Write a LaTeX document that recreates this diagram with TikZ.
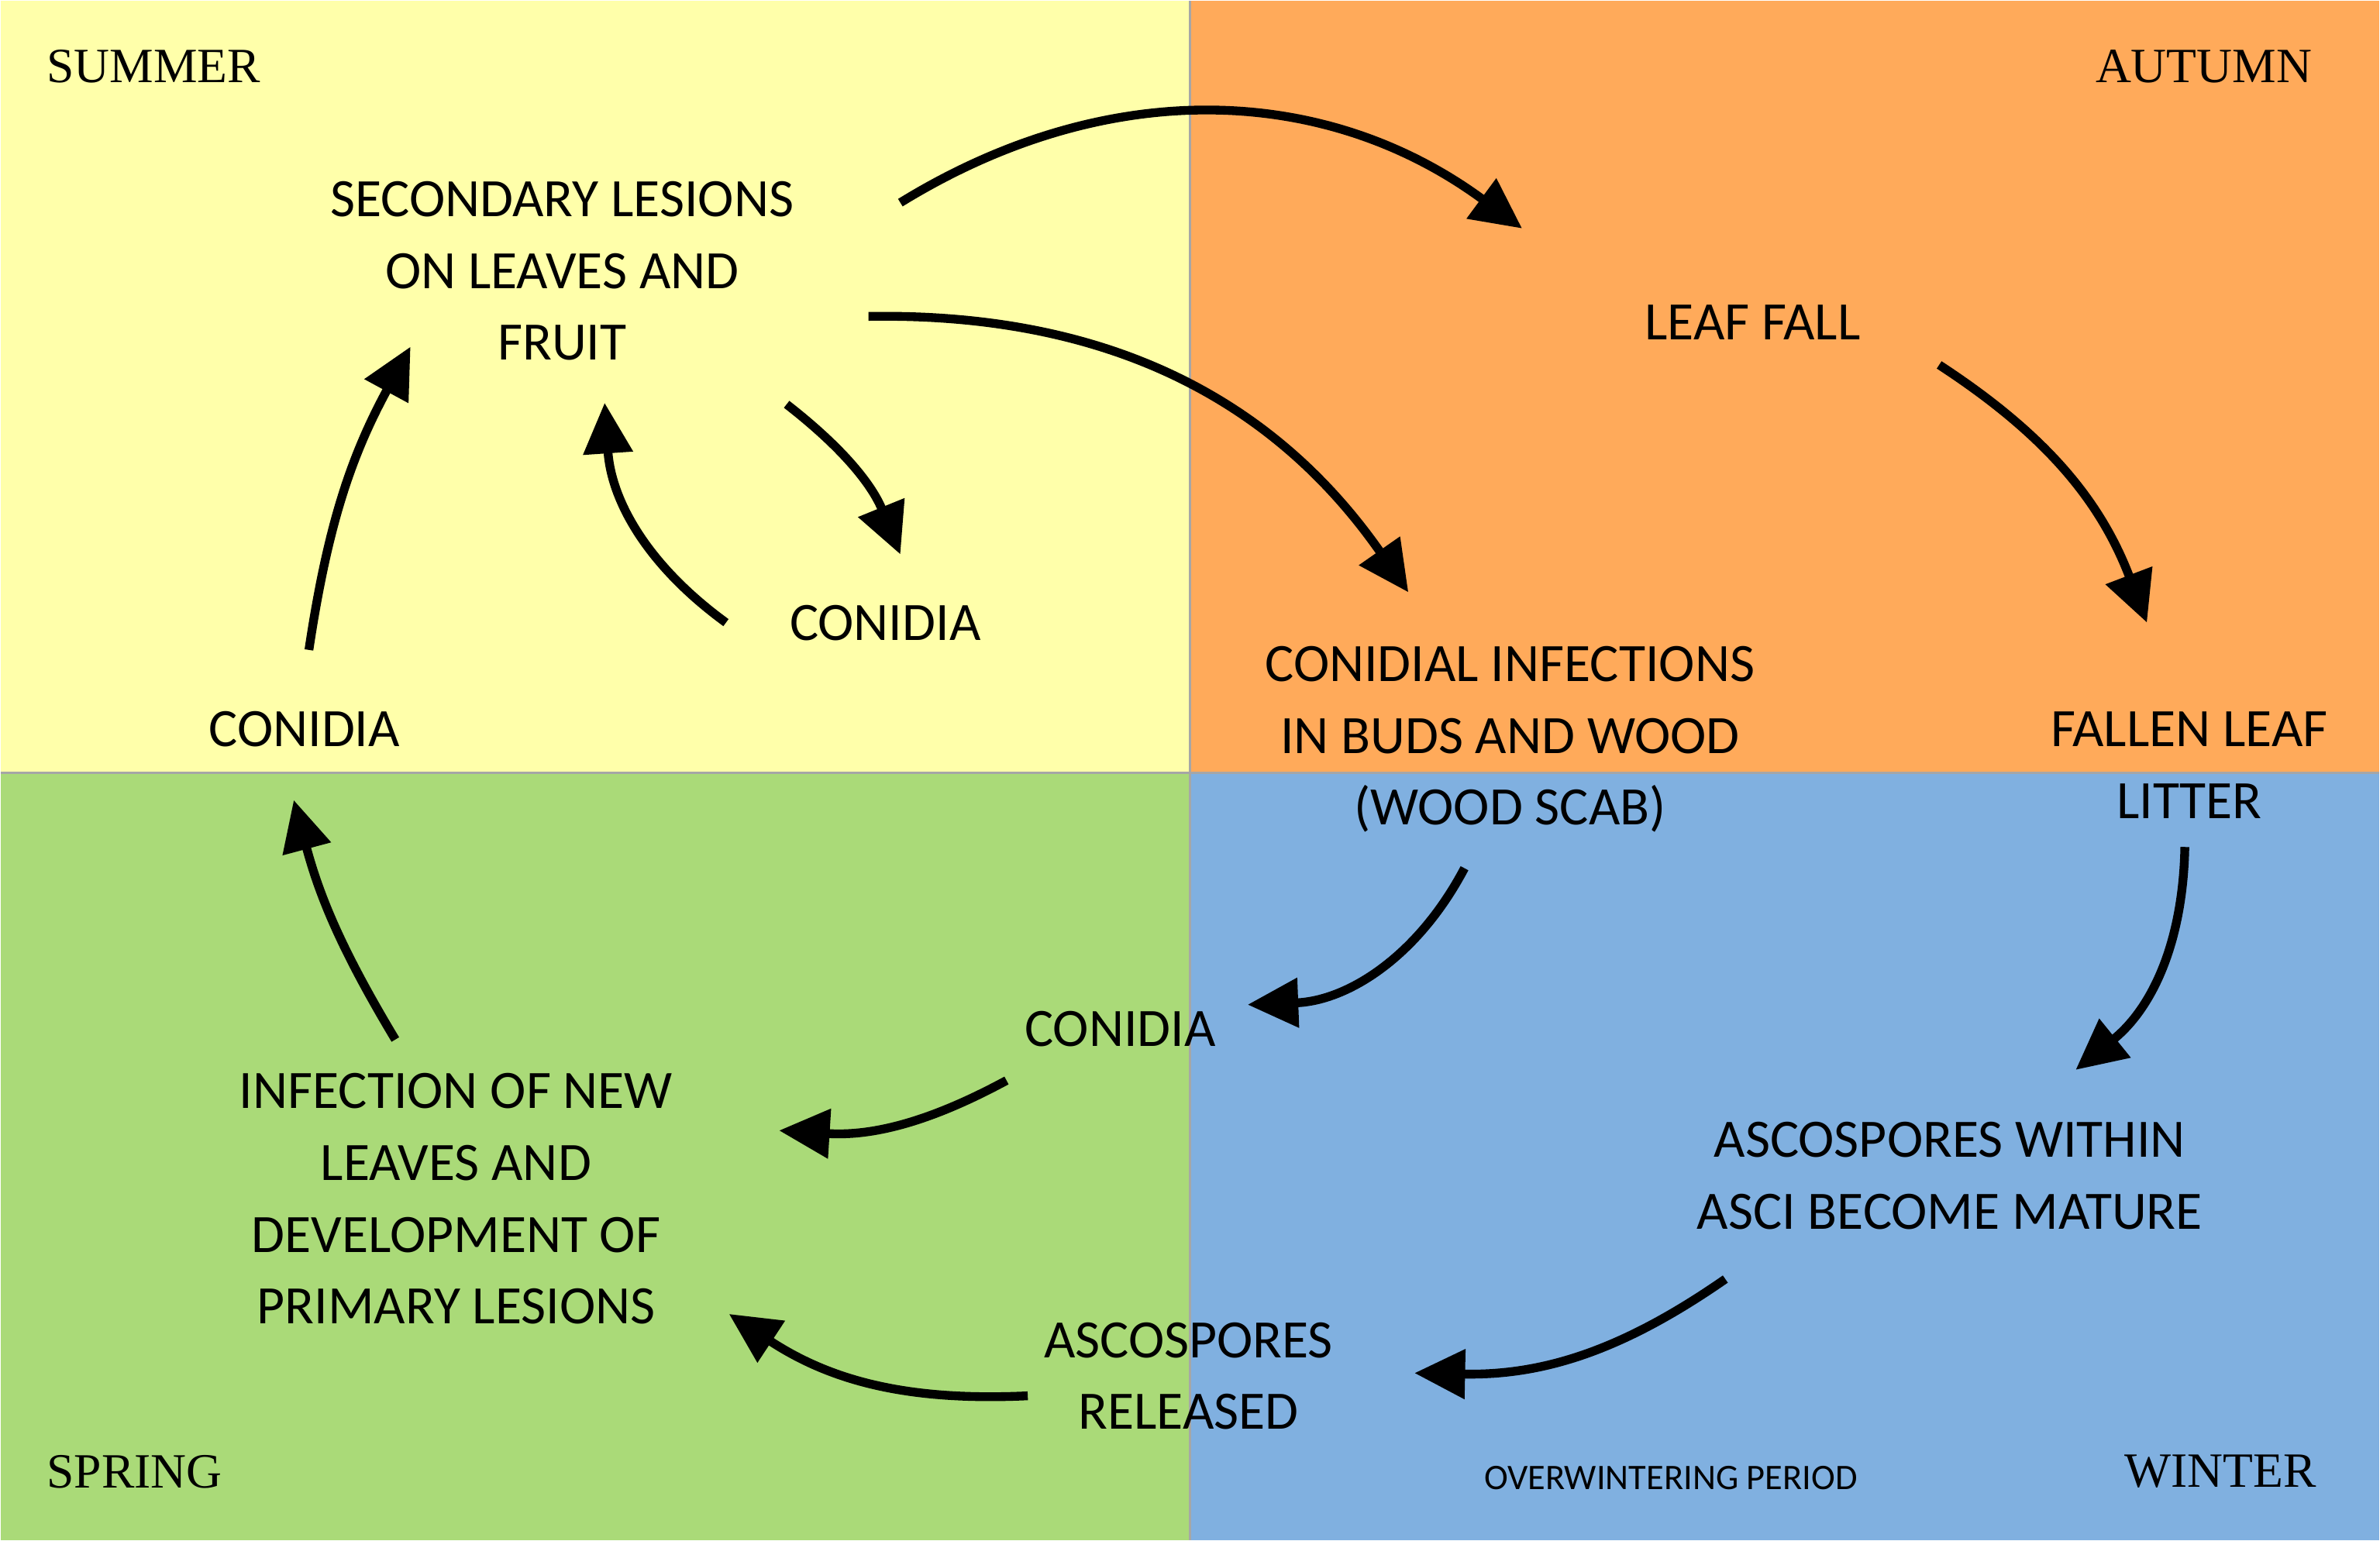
\documentclass[tikz,border=0pt]{standalone}
\usepackage{fontspec}
\setmainfont{Carlito}
\newfontfamily\seasonfont{Liberation Serif}
\usetikzlibrary{arrows.meta, positioning}
\definecolor{summerbg}{HTML}{FFFFAA}
\definecolor{autumnbg}{HTML}{FFAA5A}
\definecolor{springbg}{HTML}{AADA78}
\definecolor{winterbg}{HTML}{80B0E0}
\begin{document}
\begin{tikzpicture}[
  x=0.02cm, y=0.02cm,
  stage/.style={align=center, font=\fontsize{20.3}{27}\selectfont},
  season/.style={font=\seasonfont\fontsize{18.5}{20}\selectfont},
  cyc/.style={-{Triangle[length=19pt, width=18pt]}, line width=3.3pt, black}
]

% Seasons
\fill[summerbg] (0,506) rectangle (784,1015);
\fill[autumnbg] (784,506) rectangle (1568,1015);
\fill[springbg] (0,0) rectangle (784,506);
\fill[winterbg] (784,0) rectangle (1568,506);
\draw[gray!70, line width=0.8pt] (784,0) -- (784,1015) (0,506) -- (1568,506);

\node[season, anchor=west] (summer) at (24,972) {SUMMER};
\node[season, anchor=east] (autumn) at (1530,972) {AUTUMN};
\node[season, anchor=west] (spring) at (24,45) {SPRING};
\node[season, anchor=east] (winter) at (1533,45) {WINTER};

% Stages
\node[stage] (secondary) at (370,837) {SECONDARY LESIONS\\ON LEAVES AND\\FRUIT};
\node[stage] (leaffall) at (1155,803) {LEAF FALL};
\node[stage] (conidiaA) at (200,535) {CONIDIA};
\node[stage] (conidiaB) at (583,605) {CONIDIA};
\node[stage] (woodscab) at (995,528) {CONIDIAL INFECTIONS\\IN BUDS AND WOOD\\(WOOD SCAB)};
\node[stage] (litter) at (1443,511) {FALLEN LEAF\\LITTER};
\node[stage] (conidiaC) at (738,337) {CONIDIA};
\node[stage] (infection) at (300,225) {INFECTION OF NEW\\LEAVES AND\\DEVELOPMENT OF\\PRIMARY LESIONS};
\node[stage] (mature) at (1285,240) {ASCOSPORES WITHIN\\ASCI BECOME MATURE};
\node[stage] (released) at (783,108) {ASCOSPORES\\RELEASED};
\node[font=\fontsize{13.5}{16}\selectfont] (overwinter) at (1101,41) {OVERWINTERING PERIOD};

% Arrow ends
\coordinate (s1) at (593,882);  \coordinate (e1) at (1003,865);
\coordinate (s2) at (572,807);  \coordinate (e2) at (928,625);
\coordinate (s3) at (1278,775); \coordinate (e3) at (1415,605);
\coordinate (s4) at (518,749);  \coordinate (e4) at (593,650);
\coordinate (s5) at (478,605);  \coordinate (e5) at (398,750);
\coordinate (s6) at (203,587);  \coordinate (e6) at (270,787);
\coordinate (s7) at (260,330);  \coordinate (e7) at (193,488);
\coordinate (s8) at (965,443);  \coordinate (e8) at (822,353);
\coordinate (s9) at (1440,457); \coordinate (e9) at (1368,310);
\coordinate (s10) at (1137,172); \coordinate (e10) at (932,110);
\coordinate (s11) at (663,303); \coordinate (e11) at (513,270);
\coordinate (s12) at (677,95);  \coordinate (e12) at (480,149);

% Cycle
\draw[cyc] (s1) to[bend left=34] (e1);
\draw[cyc] (s2) to[bend left=28] (e2);
\draw[cyc] (s3) to[bend left=18] (e3);
\draw[cyc] (s4) to[bend left=15] (e4);
\draw[cyc] (s5) to[bend left=25] (e5);
\draw[cyc] (s6) to[bend left=10] (e6);
\draw[cyc] (s7) to[bend left=8] (e7);
\draw[cyc] (s8) to[bend left=30] (e8);
\draw[cyc] (s9) to[bend left=25] (e9);
\draw[cyc] (s10) to[bend left=18] (e10);
\draw[cyc] (s11) to[bend left=16] (e11);
\draw[cyc] (s12) to[bend left=18] (e12);

\end{tikzpicture}
\end{document}
